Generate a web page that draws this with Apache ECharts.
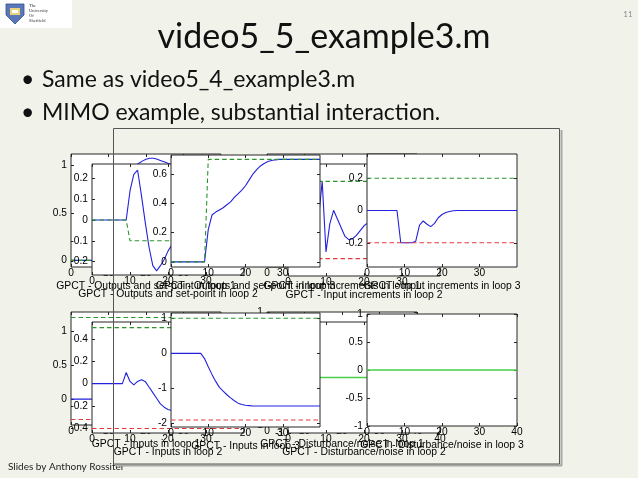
<!DOCTYPE html>
<html><head><meta charset="utf-8">
<script src="https://cdn.jsdelivr.net/npm/echarts@6/dist/echarts.min.js"></script>
<style>html,body{margin:0;padding:0;background:#f1f3eb;}#c{width:638px;height:478px;}</style>
</head><body><div id="c"></div><script>
// ---------------- data ----------------
const samples = [0,1,2,3,4,5,6,7,8,9,10,11,12,13,14,15,16,17,18,19,20,21,22,23,24,25,26,27,28,29,30,31,32,33,34,35,36,37,38,39,40];
const xTicks = [0, 10, 20, 30];
const xTicksFull = [0, 10, 20, 30, 40];

// loop 1
const out1 = [0,0,0,0,0,0,0,0,0,0,0.1,0.25,0.42,0.58,0.72,0.84,0.93,0.99,1.02,1.045,1.065,1.075,1.075,1.065,1.05,1.035,1.02,1.01,1,1,1,1,1,1,1,1,1,1,1,1,1];
const sp1  = [0,0,0,0,0,0,0,0,0,0,1,1,1,1,1,1,1,1,1,1,1,1,1,1,1,1,1,1,1,1,1,1,1,1,1,1,1,1,1,1,1];
const du1  = [0,0,0,0,0,0,0,0,0,0.2,0.2,0.12,0.02,-0.04,-0.06,-0.05,-0.03,-0.02,-0.01,-0.005,0,0,0,0,0,0,0,0,0,0,0,0,0,0,0,0,0,0,0,0,0];
const u1   = [0,0,0,0,0,0,0,0,0,0.2,0.38,0.5,0.56,0.6,0.63,0.66,0.68,0.7,0.71,0.72,0.72,0.72,0.72,0.72,0.72,0.72,0.72,0.72,0.72,0.72,0.72,0.72,0.72,0.72,0.72,0.72,0.72,0.72,0.72,0.72,0.72];
const dist1 = [0,0,0,0,0,0,0,0,0,0,0,0,0,0,0,0,0,0,0,0,0,0,0,0,0,0,0,0,0,0,0,0,0,0,0,0,0,0,0,0,0];
const duLim1 = [0.2, -0.2];
const uLim1 = [1.2, -0.3];

// loop 2
const out2 = [0,0,0,0,0,0,0,0,0,0,0.14,0.22,0.24,0.12,-0.01,-0.13,-0.22,-0.245,-0.22,-0.19,-0.15,-0.12,-0.1,-0.09,-0.09,-0.095,-0.1,-0.1,-0.1,-0.1,-0.1,-0.1,-0.1,-0.1,-0.1,-0.1,-0.1,-0.1,-0.1,-0.1,-0.1];
const sp2  = [0,0,0,0,0,0,0,0,0,0,-0.1,-0.1,-0.1,-0.1,-0.1,-0.1,-0.1,-0.1,-0.1,-0.1,-0.1,-0.1,-0.1,-0.1,-0.1,-0.1,-0.1,-0.1,-0.1,-0.1,-0.1,-0.1,-0.1,-0.1,-0.1,-0.1,-0.1,-0.1,-0.1,-0.1,-0.1];
const du2  = [0,0,0,0,0,0,0,0,0,0.2,-0.165,-0.02,0.05,0.005,-0.04,-0.085,-0.102,-0.097,-0.08,-0.055,-0.03,-0.015,-0.008,-0.004,-0.002,0,0,0,0,0,0,0,0,0,0,0,0,0,0,0,0];
const u2   = [0,0,0,0,0,0,0,0,0,0.1,0.02,-0.01,0.02,0.035,0.02,-0.03,-0.08,-0.13,-0.18,-0.21,-0.23,-0.24,-0.25,-0.255,-0.26,-0.26,-0.26,-0.26,-0.26,-0.26,-0.26,-0.26,-0.26,-0.26,-0.26,-0.26,-0.26,-0.26,-0.26,-0.26,-0.26];
const dist2 = [0,0,0,0,0,0,0,0,0,0,0,0,0,0,0,0,0,0,0,0,0,0,0,0,0,0,0,0,0,0,0,0,0,0,0,0,0,0,0,0,0];
const duLim2 = [0.2, -0.2];
const uLim2 = [0.5, -0.4];

// loop 3
const out3 = [0,0,0,0,0,0,0,0,0,0,0.22,0.32,0.34,0.355,0.37,0.39,0.41,0.44,0.465,0.49,0.52,0.56,0.6,0.63,0.655,0.672,0.685,0.692,0.697,0.7,0.7,0.7,0.7,0.7,0.7,0.7,0.7,0.7,0.7,0.7,0.7];
const sp3  = [0,0,0,0,0,0,0,0,0,0,0.7,0.7,0.7,0.7,0.7,0.7,0.7,0.7,0.7,0.7,0.7,0.7,0.7,0.7,0.7,0.7,0.7,0.7,0.7,0.7,0.7,0.7,0.7,0.7,0.7,0.7,0.7,0.7,0.7,0.7,0.7];
const du3  = [0,0,0,0,0,0,0,0,0,-0.2,-0.2,-0.2,-0.2,-0.19,-0.09,-0.065,-0.085,-0.1,-0.08,-0.045,-0.025,-0.012,-0.006,-0.002,0,0,0,0,0,0,0,0,0,0,0,0,0,0,0,0,0];
const u3   = [0,0,0,0,0,0,0,0,0,-0.15,-0.38,-0.6,-0.8,-0.97,-1.08,-1.18,-1.27,-1.35,-1.42,-1.46,-1.48,-1.49,-1.5,-1.5,-1.5,-1.5,-1.5,-1.5,-1.5,-1.5,-1.5,-1.5,-1.5,-1.5,-1.5,-1.5,-1.5,-1.5,-1.5,-1.5,-1.5];
const dist3 = [0,0,0,0,0,0,0,0,0,0,0,0,0,0,0,0,0,0,0,0,0,0,0,0,0,0,0,0,0,0,0,0,0,0,0,0,0,0,0,0,0];
const duLim3 = [0.2, -0.2];
const uLim3 = [1.0, -1.9];

// tick labels
const yT_out1 = [0, 0.5, 1];
const yT_du1 = [-0.2, 0, 0.2];
const yT_u1 = [0, 0.5, 1];
const yT_dist = [-1, -0.5, 0, 0.5, 1];
const yT_out2 = [-0.2, -0.1, 0, 0.1, 0.2];
const yT_du2 = [-0.2, 0, 0.2];
const yT_u2 = [-0.4, -0.2, 0, 0.2, 0.4];
const yT_out3 = [0, 0.2, 0.4, 0.6];
const yT_du3 = [-0.2, 0, 0.2];
const yT_u3 = [-2, -1, 0, 1];

const titles1 = ['GPCT - Outputs and set-point in loop 1','GPCT - Input increments in loop 1','GPCT - Inputs in loop 1','GPCT - Disturbance/noise in loop 1'];
const titles2 = ['GPCT - Outputs and set-point in loop 2','GPCT - Input increments in loop 2','GPCT - Inputs in loop 2','GPCT - Disturbance/noise in loop 2'];
const titles3 = ['GPCT - Outputs and set-point in loop 3','GPCT - Input increments in loop 3','GPCT - Inputs in loop 3','GPCT - Disturbance/noise in loop 3'];

// ---------------- styles / layout ----------------
const FONT = 'Liberation Sans';
const BLUE = '#2222dd', GREEN_D = '#2a962a', RED = '#e23a3a', GREEN_S = '#48d048';
const seriesOf = arr => samples.map((k, i) => [k, arr[i]]);
const hline = v => [[samples[0], v], [samples[samples.length - 1], v]];
const L = (data, color, dash, width) => ({data, color, dash, width: width || 1.1});

const panels = [
  {fig:1, left:71,  top:154, w:150, h:113, ymin:-0.07, ymax:1.12, yt:yT_out1, xt:xTicks, title:titles1[0],
   lines:[L(seriesOf(out1), BLUE), L(seriesOf(sp1), GREEN_D, true)]},
  {fig:1, left:267, top:154, w:150, h:113, ymin:-0.35, ymax:0.35, yt:yT_du1, xt:xTicks, title:titles1[1],
   lines:[L(seriesOf(du1), BLUE), L(hline(duLim1[0]), GREEN_D, true), L(hline(duLim1[1]), RED, true)]},
  {fig:1, left:71,  top:312, w:150, h:113, ymin:-0.38, ymax:1.28, yt:yT_u1, xt:xTicks, title:titles1[2],
   lines:[L(seriesOf(u1), BLUE), L(hline(uLim1[0]), GREEN_D, true), L(hline(uLim1[1]), RED, true)]},
  {fig:1, left:267, top:312, w:150, h:113, ymin:-1, ymax:1, yt:yT_dist, xt:xTicksFull, title:titles1[3],
   lines:[L(seriesOf(dist1), GREEN_S, false, 1.6)]},

  {fig:2, left:92,  top:164, w:152, h:111, ymin:-0.265, ymax:0.27, yt:yT_out2, xt:xTicks, title:titles2[0],
   lines:[L(seriesOf(out2), BLUE), L(seriesOf(sp2), GREEN_D, true)]},
  {fig:2, left:288, top:164, w:152, h:112, ymin:-0.29, ymax:0.29, yt:yT_du2, xt:xTicks, title:titles2[1],
   lines:[L(seriesOf(du2), BLUE), L(hline(duLim2[0]), GREEN_D, true), L(hline(duLim2[1]), RED, true)]},
  {fig:2, left:92,  top:322, w:152, h:111, ymin:-0.44, ymax:0.55, yt:yT_u2, xt:xTicks, title:titles2[2],
   lines:[L(seriesOf(u2), BLUE), L(hline(uLim2[0]), GREEN_D, true), L(hline(uLim2[1]), RED, true)]},
  {fig:2, left:288, top:322, w:152, h:111, ymin:-1, ymax:1, yt:yT_dist, xt:xTicksFull, title:titles2[3],
   lines:[L(seriesOf(dist2), GREEN_S, false, 1.6)]},

  {fig:3, left:171, top:155, w:149, h:112, ymin:-0.035, ymax:0.73, yt:yT_out3, xt:xTicks, title:titles3[0],
   lines:[L(seriesOf(out3), BLUE), L(seriesOf(sp3), GREEN_D, true)]},
  {fig:3, left:367, top:154, w:150, h:113, ymin:-0.35, ymax:0.35, yt:yT_du3, xt:xTicks, title:titles3[1],
   lines:[L(seriesOf(du3), BLUE), L(hline(duLim3[0]), GREEN_D, true), L(hline(duLim3[1]), RED, true)]},
  {fig:3, left:171, top:313, w:149, h:114, ymin:-2.1, ymax:1.15, yt:yT_u3, xt:xTicks, title:titles3[2],
   lines:[L(seriesOf(u3), BLUE), L(hline(uLim3[0]), GREEN_D, true), L(hline(uLim3[1]), RED, true)]},
  {fig:3, left:367, top:314, w:150, h:112, ymin:-1, ymax:1, yt:yT_dist, xt:xTicksFull, title:titles3[3],
   lines:[L(seriesOf(dist3), GREEN_S, false, 1.6)]}
];

const grid = [], xAxis = [], yAxis = [], series = [], graphic = [];
const tick = (vals) => ({show:true, inside:true, length:3, customValues: vals, lineStyle:{color:'#262626', width:1}});
const lab = (vals, margin) => ({show:true, customValues: vals, margin: margin, color:'#000', fontSize:10.2, fontFamily:FONT});

panels.forEach((p, i) => {
  const base = p.fig * 10;
  grid.push({left:p.left, top:p.top, width:p.w, height:p.h, show:true, backgroundColor:'#ffffff',
    borderColor:'#262626', borderWidth:1, z:base, containLabel:false, outerBoundsMode:'none'});
  const xCommon = {gridIndex:i, type:'value', min:0, max:40, z:base+1, axisLine:{show:false, onZero:false}, splitLine:{show:false}};
  xAxis.push(Object.assign({}, xCommon, {position:'bottom', axisTick:tick(p.xt), axisLabel:lab(p.xt, 1)}));
  xAxis.push(Object.assign({}, xCommon, {position:'top', axisTick:tick(p.xt), axisLabel:{show:false}}));
  const yCommon = {gridIndex:i, type:'value', min:p.ymin, max:p.ymax, z:base+1, axisLine:{show:false, onZero:false}, splitLine:{show:false}};
  yAxis.push(Object.assign({}, yCommon, {position:'left', axisTick:tick(p.yt), axisLabel:lab(p.yt, 4)}));
  yAxis.push(Object.assign({}, yCommon, {position:'right', axisTick:tick(p.yt), axisLabel:{show:false}}));
  p.lines.forEach(l => {
    series.push({type:'line', xAxisIndex:2*i, yAxisIndex:2*i, data:l.data, symbol:'none', silent:true,
      z:base+2, clip:true, animation:false, emphasis:{disabled:true},
      lineStyle:{color:l.color, width:l.width, type: l.dash ? [4.5, 3] : 'solid'}});
  });
  graphic.push({type:'text', x:p.left + p.w/2, y:p.top + p.h + 19.5, z:base+3, silent:true,
    style:{text:p.title, align:'center', verticalAlign:'middle', fontSize:10.4, fontFamily:FONT, fill:'#000'}});
});

// slide decorations
graphic.push(
  {type:'rect', shape:{x:0, y:0, width:72, height:28}, style:{fill:'#ffffff'}, z:1},
  {type:'polygon', shape:{points:[[6,4],[24,4],[24,15],[15,24],[6,15]]}, style:{fill:'#5a78b8', stroke:'#2f4f8f', lineWidth:0.8}, z:2},
  {type:'rect', shape:{x:10, y:8, width:10, height:7}, style:{fill:'#e8d27a'}, z:3},
  {type:'rect', shape:{x:12, y:10, width:6, height:3}, style:{fill:'#ffffff'}, z:4},
  {type:'text', x:29, y:5.5, z:3, style:{text:'The', fontSize:4.5, fontFamily:'Liberation Serif', fill:'#333', verticalAlign:'middle'}},
  {type:'text', x:29, y:10.5, z:3, style:{text:'University', fontSize:4.5, fontFamily:'Liberation Serif', fill:'#333', verticalAlign:'middle'}},
  {type:'text', x:29, y:15.5, z:3, style:{text:'Of', fontSize:4.5, fontFamily:'Liberation Serif', fill:'#333', verticalAlign:'middle'}},
  {type:'text', x:29, y:20.5, z:3, style:{text:'Sheffield', fontSize:4.5, fontFamily:'Liberation Serif', fill:'#333', verticalAlign:'middle'}},
  {type:'text', x:324, y:37, z:3, style:{text:'video5_5_example3.m', fontSize:34, fontFamily:'Lato', fill:'#111', align:'center', verticalAlign:'middle'}},
  {type:'text', x:21, y:80, z:3, style:{text:'•', fontSize:23, fontFamily:'Lato', fill:'#111', verticalAlign:'middle'}},
  {type:'text', x:42, y:80, z:3, style:{text:'Same as video5_4_example3.m', fontSize:23, fontFamily:'Lato', fill:'#111', verticalAlign:'middle'}},
  {type:'text', x:21, y:113, z:3, style:{text:'•', fontSize:23, fontFamily:'Lato', fill:'#111', verticalAlign:'middle'}},
  {type:'text', x:42, y:113, z:3, style:{text:'MIMO example, substantial interaction.', fontSize:23, fontFamily:'Lato', fill:'#111', verticalAlign:'middle'}},
  {type:'text', x:628, y:14, z:3, style:{text:'11', fontSize:8, fontFamily:'Lato', fill:'#8a8a8a', align:'center', verticalAlign:'middle'}},
  {type:'text', x:8, y:467, z:3, style:{text:'Slides by Anthony Rossiter', fontSize:10, fontFamily:'Lato', fill:'#222', verticalAlign:'middle'}},
  {type:'line', shape:{x1:115, y1:465.5, x2:562, y2:465.5}, style:{stroke:'#a8a8a8', lineWidth:2}, z:99},
  {type:'line', shape:{x1:561.5, y1:130, x2:561.5, y2:466}, style:{stroke:'#a8a8a8', lineWidth:2}, z:99},
  {type:'rect', shape:{x:113.5, y:128.5, width:446, height:335.5}, style:{fill:'none', stroke:'#555', lineWidth:1}, z:100}
);

const chart = echarts.init(document.getElementById('c'), null, {renderer:'canvas'});
chart.setOption({
  backgroundColor:'#f1f3eb',
  animation:false,
  grid, xAxis, yAxis, series, graphic
});
</script></body></html>
